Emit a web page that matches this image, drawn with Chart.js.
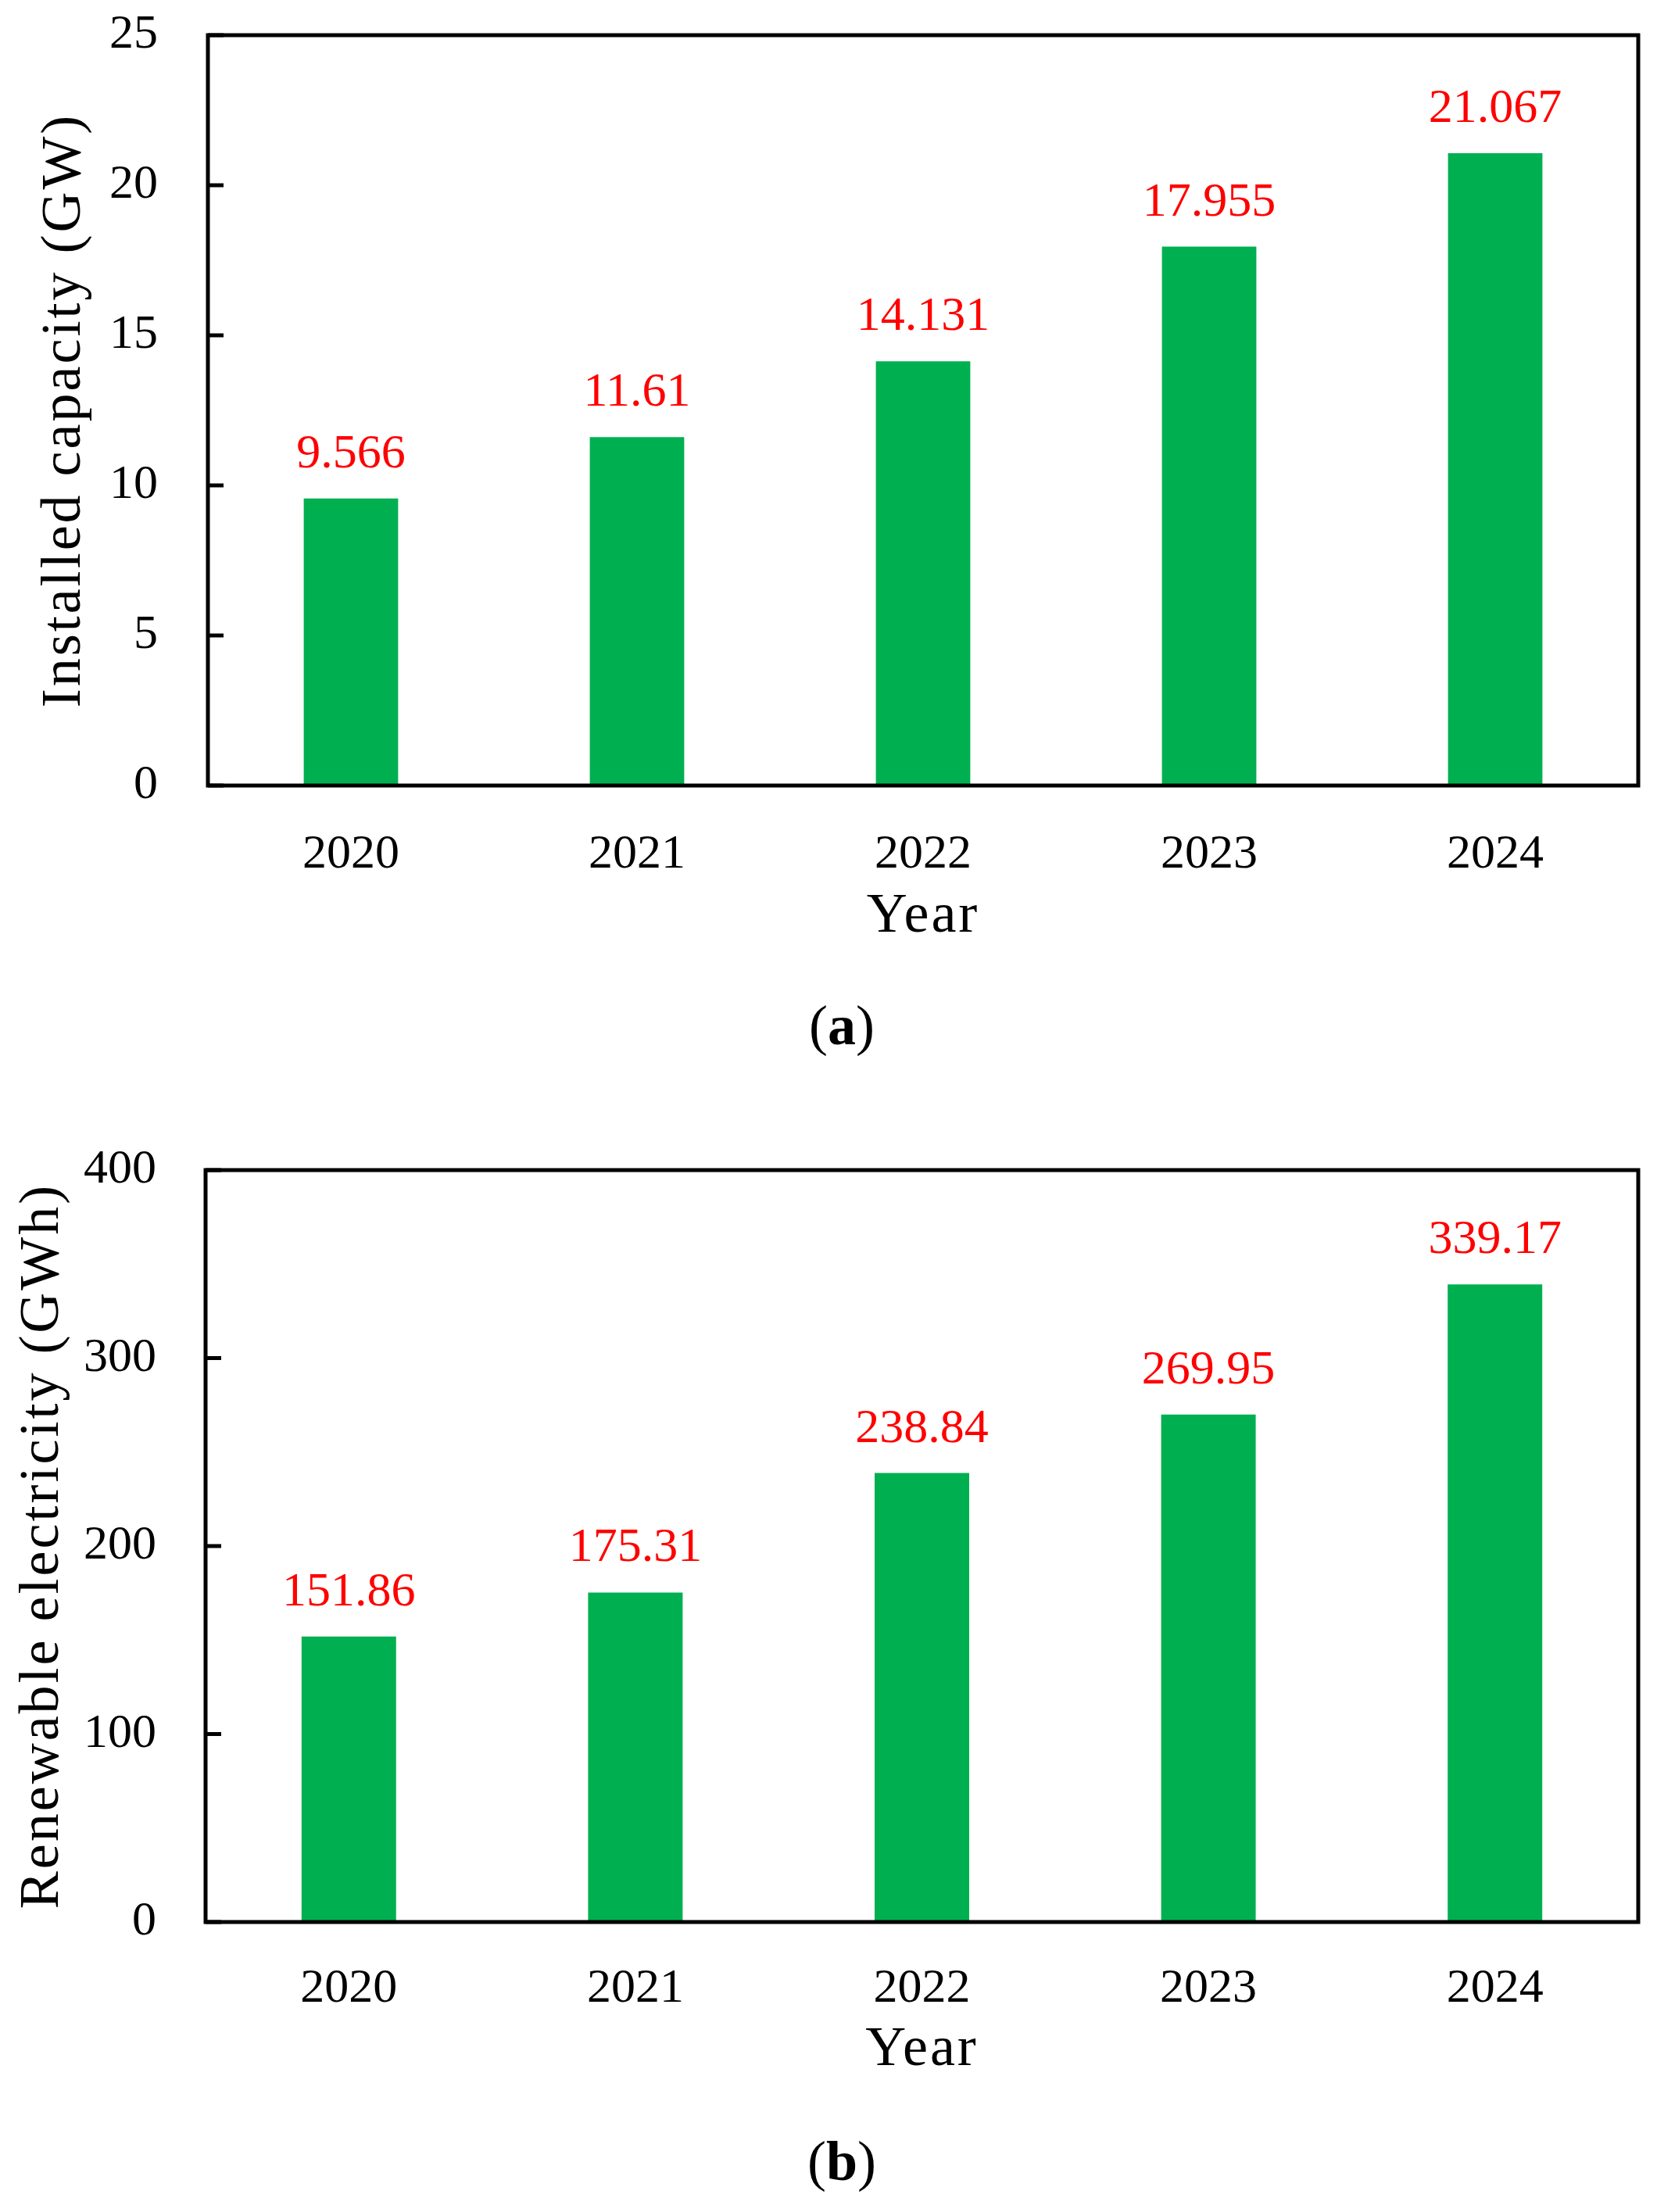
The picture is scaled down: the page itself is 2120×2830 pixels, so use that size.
<!DOCTYPE html>
<html>
<head>
<meta charset="utf-8">
<script src="https://cdn.jsdelivr.net/npm/chart.js@4.4.1/dist/chart.umd.min.js"></script>
<style>
  html, body { margin: 0; padding: 0; background: #ffffff; }
  body { width: 2120px; height: 2830px; position: relative; overflow: hidden; }
  .wrap { position: absolute; left: 0; width: 2120px; }
  .cap { position: absolute; left: 0; width: 2154px; text-align: center;
         font-family: "Liberation Serif", serif; font-size: 72px; color: #000; line-height: 1; }
  .cap b { font-weight: bold; }
</style>
</head>
<body>
<div class="wrap" style="top:0;height:1250px;"><canvas id="chartA"></canvas></div>
<div class="cap" style="top:1276px;">(<b>a</b>)</div>
<div class="wrap" style="top:1250px;height:1580px;"><canvas id="chartB"></canvas></div>
<div class="cap" style="top:2729px;">(<b>b</b>)</div>
<script>
// ---- data ----
const years = ["2020", "2021", "2022", "2023", "2024"];
const capacityGW = [9.566, 11.61, 14.131, 17.955, 21.067];
const capacityLabels = ["9.566", "11.61", "14.131", "17.955", "21.067"];
const electricityGWh = [151.86, 175.31, 238.84, 269.95, 339.17];
const electricityLabels = ["151.86", "175.31", "238.84", "269.95", "339.17"];

const FONT = "Liberation Serif";
const BAR_GREEN = "#00B050";
const RED = "#FF0000";

const boxPlugin = {
  id: 'boxAndLabels',
  afterDatasetsDraw(chart, args, opts) {
    const ctx = chart.ctx;
    const a = chart.chartArea;
    const meta = chart.getDatasetMeta(0);
    ctx.save();
    ctx.fillStyle = RED;
    ctx.font = '62px "' + FONT + '"';
    ctx.textAlign = 'center';
    ctx.textBaseline = 'alphabetic';
    meta.data.forEach((bar, i) => {
      ctx.fillText(opts.labels[i], bar.x, bar.y - 40);
    });
    ctx.restore();
    ctx.save();
    ctx.strokeStyle = '#000';
    ctx.lineWidth = 5;
    ctx.strokeRect(a.left, a.top, a.right - a.left, a.bottom - a.top);
    const ys = chart.scales.y;
    ys.ticks.forEach(t => {
      const py = ys.getPixelForValue(t.value);
      ctx.beginPath();
      ctx.moveTo(a.left, py);
      ctx.lineTo(a.left + 20, py);
      ctx.stroke();
    });
    ctx.restore();
  }
};

function spacedTitle(s) {
  if (!s._spacedTitle) {
    const orig = s.drawTitle;
    s.drawTitle = function (...args) {
      const ctx = this.ctx;
      const prev = ctx.letterSpacing;
      ctx.letterSpacing = '3px';
      orig.apply(this, args);
      ctx.letterSpacing = prev || '0px';
    };
    s._spacedTitle = true;
  }
}

function makeChart(id, values, labels, yMax, yStep, yTitle, cfg) {
  return new Chart(document.getElementById(id), {
    type: 'bar',
    data: {
      labels: years,
      datasets: [{
        data: values,
        backgroundColor: BAR_GREEN,
        borderWidth: 0,
        barPercentage: 0.33,
        categoryPercentage: 1.0
      }]
    },
    options: {
      responsive: true,
      maintainAspectRatio: false,
      animation: false,
      devicePixelRatio: 1,
      layout: { padding: { left: 0, right: 24, top: cfg.top, bottom: cfg.bottom } },
      plugins: {
        legend: { display: false },
        tooltip: { enabled: false },
        boxAndLabels: { labels: labels }
      },
      scales: {
        x: {
          grid: { display: false, drawTicks: false },
          border: { display: false },
          ticks: { color: '#000', font: { family: FONT, size: 62 }, padding: cfg.xPad },
          title: { display: true, text: 'Year', color: '#000',
                   font: { family: FONT, size: 72 }, padding: { top: 0, bottom: cfg.xTitlePad } },
          afterFit(s) { s.height = 220; s.paddingLeft = 0; s.paddingRight = 0; spacedTitle(s); }
        },
        y: {
          min: 0, max: yMax,
          grid: { display: false, drawTicks: false },
          border: { display: false },
          ticks: { stepSize: yStep, color: '#000', font: { family: FONT, size: 62 }, padding: cfg.yPad },
          title: { display: true, text: yTitle, color: '#000',
                   font: { family: FONT, size: 72 }, padding: { top: cfg.yTitlePad, bottom: 0 } },
          afterFit(s) { s.width = cfg.yWidth; s.paddingTop = 0; s.paddingBottom = 0; spacedTitle(s); }
        }
      }
    },
    plugins: [boxPlugin]
  });
}

makeChart('chartA', capacityGW, capacityLabels, 25, 5, 'Installed capacity (GW)',
  { top: 45, bottom: 25, yWidth: 266, yPad: 64, yTitlePad: 40, xPad: 52, xTitlePad: 9 });
makeChart('chartB', electricityGWh, electricityLabels, 400, 100, 'Renewable electricity (GWh)',
  { top: 247, bottom: 151, yWidth: 263, yPad: 63, yTitlePad: 12, xPad: 49, xTitlePad: 13 });
</script>
</body>
</html>
